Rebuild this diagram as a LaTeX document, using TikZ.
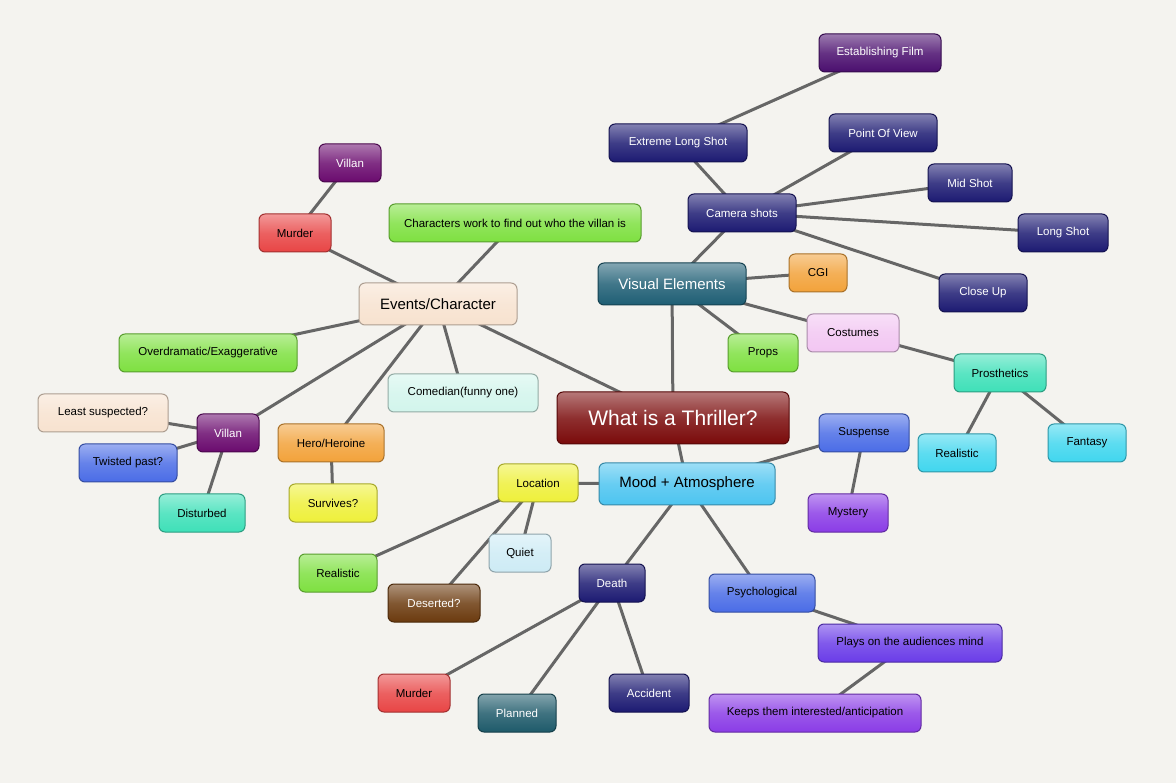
\documentclass[tikz,border=0pt]{standalone}
\usepackage{fontspec}
\setmainfont{Liberation Sans}
\usetikzlibrary{backgrounds}
\definecolor{paper}{HTML}{F4F3EF}
\definecolor{purp}{HTML}{6A0A6E}
\definecolor{redn}{HTML}{E84545}
\definecolor{grn}{HTML}{7EE040}
\definecolor{peach}{HTML}{F7E2CF}
\definecolor{mint}{HTML}{D2F5EC}
\definecolor{blu}{HTML}{4A6CE6}
\definecolor{teal}{HTML}{3EE0B8}
\definecolor{orng}{HTML}{F2A23A}
\definecolor{yel}{HTML}{EEF03A}
\definecolor{dred}{HTML}{7A0A0A}
\definecolor{vteal}{HTML}{1E5E74}
\definecolor{pink}{HTML}{F2C6F2}
\definecolor{cyn}{HTML}{40D6EE}
\definecolor{navy}{HTML}{1C1A72}
\definecolor{dpurp}{HTML}{4A0E6E}
\definecolor{lblue}{HTML}{4CC4F0}
\definecolor{qblue}{HTML}{CDEBF5}
\definecolor{brwn}{HTML}{6B3A0E}
\definecolor{viol}{HTML}{6A3CE8}
\definecolor{mpurp}{HTML}{8A3CE6}
\definecolor{pteal}{HTML}{1E5A6A}
\tikzset{
 bx/.style 2 args={draw=#1!70!black, line width=1pt, top color=#1!55!white, bottom color=#1, middle color=#1!85!white,
   rounded corners=6pt, minimum height=38pt, text=#2, font=\fontsize{11.5}{14}\selectfont, inner sep=3pt},
 ln/.style={draw=black!60, line width=3pt}
}
\begin{document}
\begin{tikzpicture}[x=1pt,y=-1pt]
\useasboundingbox (0,0) rectangle (1176,783);
\node[bx={dred}{white}, minimum width=232pt, minimum height=52pt, font=\fontsize{21}{24}\selectfont] (t) at (673,418) {What is a Thriller?};
\node[bx={peach}{black}, minimum width=158pt, minimum height=42pt, font=\fontsize{15}{18}\selectfont] (ev) at (438,304) {Events/Character};
\node[bx={vteal}{white}, minimum width=148pt, minimum height=42pt, font=\fontsize{15}{18}\selectfont] (vis) at (672,284) {Visual Elements};
\node[bx={lblue}{black}, minimum width=176pt, minimum height=42pt, font=\fontsize{15}{18}\selectfont] (mood) at (687,484) {Mood + Atmosphere};
\node[bx={purp}{white}, minimum width=62pt] (v1) at (350,163) {Villan};
\node[bx={redn}{black}, minimum width=72pt] (m1) at (295,233) {Murder};
\node[bx={grn}{black}, minimum width=252pt] (cw) at (515,223) {Characters work to find out who the villan is};
\node[bx={grn}{black}, minimum width=178pt] (od) at (208,353) {Overdramatic/Exaggerative};
\node[bx={mint}{black}, minimum width=150pt] (com) at (463,393) {Comedian(funny one)};
\node[bx={peach}{black}, minimum width=130pt] (ls) at (103,413) {Least suspected?};
\node[bx={purp}{white}, minimum width=62pt] (v2) at (228,433) {Villan};
\node[bx={blu}{black}, minimum width=98pt] (tp) at (128,463) {Twisted past?};
\node[bx={teal}{black}, minimum width=86pt] (dis) at (202,513) {Disturbed};
\node[bx={orng}{black}, minimum width=106pt] (hh) at (331,443) {Hero/Heroine};
\node[bx={yel}{black}, minimum width=88pt] (sv) at (333,503) {Survives?};
\node[bx={orng}{black}, minimum width=58pt] (cgi) at (818,273) {CGI};
\node[bx={grn}{black}, minimum width=70pt] (pr) at (763,353) {Props};
\node[bx={pink}{black}, minimum width=92pt] (cos) at (853,333) {Costumes};
\node[bx={teal}{black}, minimum width=92pt] (pro) at (1000,373) {Prosthetics};
\node[bx={cyn}{black}, minimum width=78pt] (re1) at (957,453) {Realistic};
\node[bx={cyn}{black}, minimum width=78pt] (fan) at (1087,443) {Fantasy};
\node[bx={navy}{white}, minimum width=108pt] (cs) at (742,213) {Camera shots};
\node[bx={navy}{white}, minimum width=138pt] (els) at (678,143) {Extreme Long Shot};
\node[bx={dpurp}{white}, minimum width=122pt] (est) at (880,53) {Establishing Film};
\node[bx={navy}{white}, minimum width=108pt] (pov) at (883,133) {Point Of View};
\node[bx={navy}{white}, minimum width=84pt] (mid) at (970,183) {Mid Shot};
\node[bx={navy}{white}, minimum width=90pt] (lsh) at (1063,233) {Long Shot};
\node[bx={navy}{white}, minimum width=88pt] (cu) at (983,293) {Close Up};
\node[bx={blu}{black}, minimum width=90pt] (sus) at (864,433) {Suspense};
\node[bx={mpurp}{black}, minimum width=80pt] (mys) at (848,513) {Mystery};
\node[bx={yel}{black}, minimum width=80pt] (loc) at (538,483) {Location};
\node[bx={qblue}{black}, minimum width=62pt] (q) at (520,553) {Quiet};
\node[bx={grn}{black}, minimum width=78pt] (re2) at (338,573) {Realistic};
\node[bx={brwn}{white}, minimum width=92pt] (des) at (434,603) {Deserted?};
\node[bx={navy}{white}, minimum width=66pt] (dth) at (612,583) {Death};
\node[bx={blu}{black}, minimum width=106pt] (psy) at (762,593) {Psychological};
\node[bx={viol}{black}, minimum width=184pt] (pl) at (910,643) {Plays on the audiences mind};
\node[bx={mpurp}{black}, minimum width=212pt] (kp) at (815,713) {Keeps them interested/anticipation};
\node[bx={redn}{black}, minimum width=72pt] (m2) at (414,693) {Murder};
\node[bx={pteal}{white}, minimum width=78pt] (pln) at (517,713) {Planned};
\node[bx={navy}{white}, minimum width=80pt] (acc) at (649,693) {Accident};
\begin{pgfonlayer}{background}
\fill[paper] (0,0) rectangle (1176,783);
\foreach \a/\b in {t/ev,t/vis,t/mood,ev/m1,m1/v1,ev/cw,ev/od,ev/com,ev/v2,ev/hh,v2/ls,v2/tp,v2/dis,hh/sv,
 vis/cs,vis/cgi,vis/pr,vis/cos,cos/pro,pro/re1,pro/fan,cs/els,els/est,cs/pov,cs/mid,cs/lsh,cs/cu,
 mood/sus,sus/mys,mood/loc,loc/q,loc/re2,loc/des,mood/dth,dth/m2,dth/pln,dth/acc,mood/psy,psy/pl,pl/kp}
 \draw[ln] (\a.center) -- (\b.center);
\end{pgfonlayer}
\end{tikzpicture}
\end{document}
